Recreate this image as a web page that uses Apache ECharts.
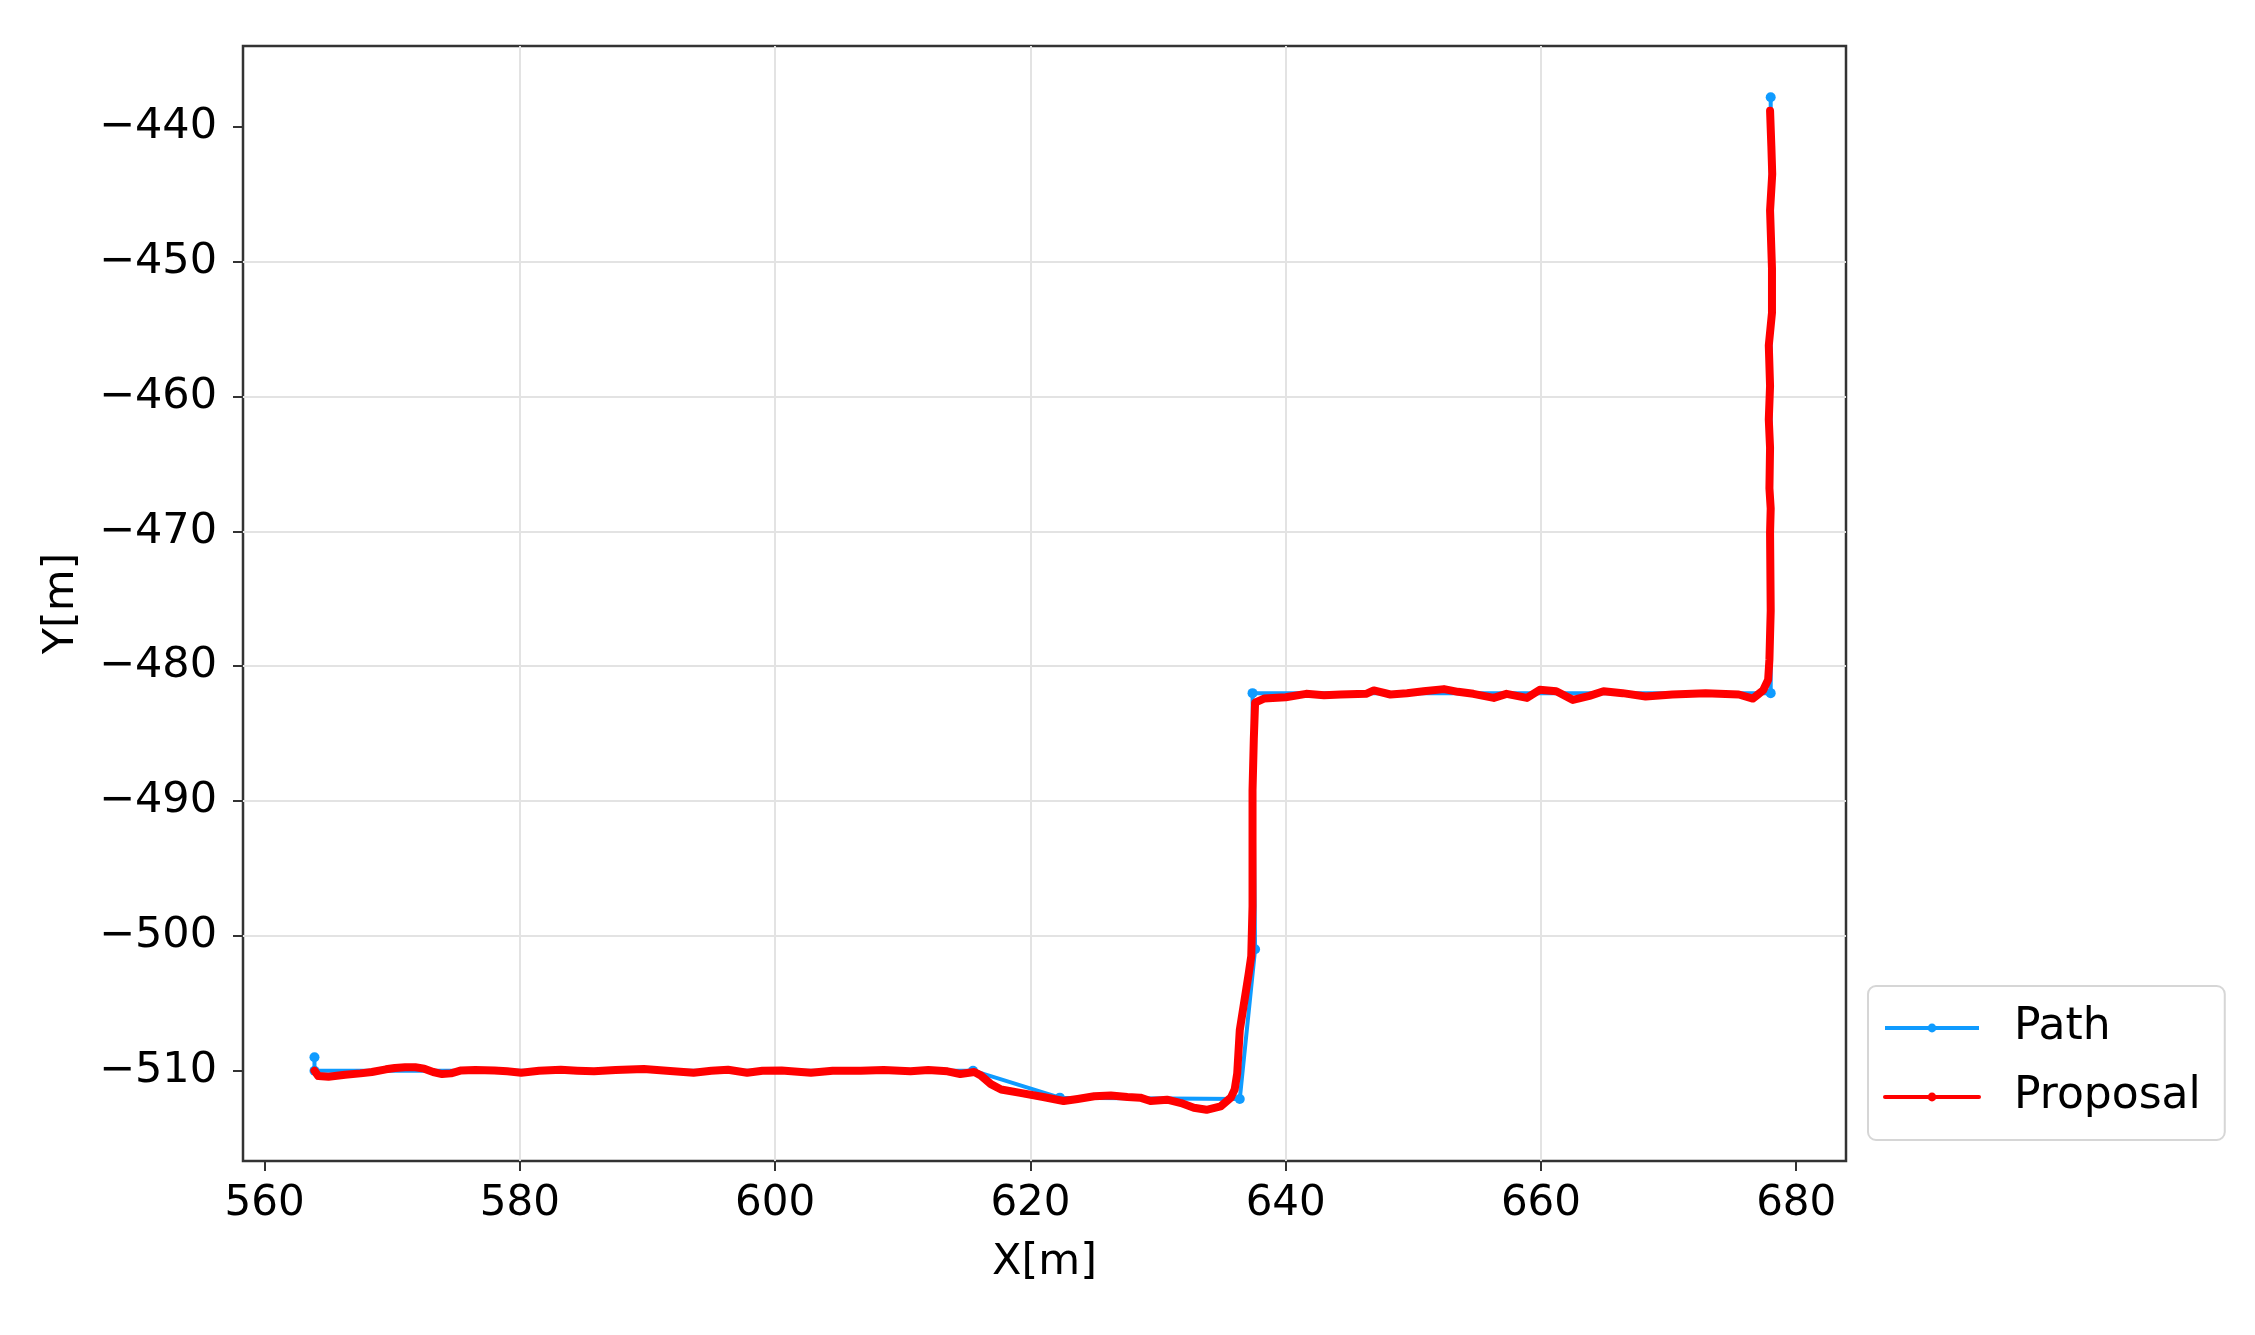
<!DOCTYPE html>
<html>
<head>
<meta charset="utf-8">
<title>Path vs Proposal</title>
<script src="https://cdn.jsdelivr.net/npm/echarts@6/dist/echarts.min.js"></script>
<style>
  html, body { margin: 0; padding: 0; background: #fff; }
  #chart { width: 2255px; height: 1335px; }
</style>
</head>
<body>
<div id="chart"></div>
<script>
// axis ticks
const xTicks = [560, 580, 600, 620, 640, 660, 680]
const yTicks = [-510, -500, -490, -480, -470, -460, -450, -440]

// reference path vertices [x, y]
const pathPoints = [
  [563.9, -509.0], [563.9, -510.0], [615.5, -510.0], [622.3, -512.0],
  [636.4, -512.1], [637.6, -501.0], [637.4, -482.0], [678.0, -482.0],
  [678.0, -437.8]
]

// proposed trajectory [x, y]
const proposalPoints = [
  [563.9, -510.0], [564.2, -510.4], [565.0, -510.45], [566.3, -510.3], [567.5, -510.2],
  [568.4, -510.1], [569.5, -509.9], [570.2, -509.8], [571.0, -509.75], [571.8, -509.75],
  [572.5, -509.85], [573.2, -510.1], [573.9, -510.25], [574.6, -510.2], [575.4, -509.98],
  [576.5, -509.95], [578.0, -509.98], [579.0, -510.05], [580.1, -510.15], [581.5, -510.0],
  [583.2, -509.93], [584.5, -510.0], [585.8, -510.05], [587.5, -509.95], [589.7, -509.87],
  [591.5, -510.0], [593.6, -510.15], [595.0, -510.0], [596.3, -509.93], [597.8, -510.15],
  [599.0, -510.0], [600.5, -509.98], [602.8, -510.15], [604.5, -510.0], [606.7, -510.0],
  [608.5, -509.95], [610.6, -510.05], [612.0, -509.95], [613.5, -510.05], [614.5, -510.25],
  [615.6, -510.1], [616.1, -510.35], [616.9, -511.0], [617.7, -511.4], [619.2, -511.65],
  [621.0, -511.95], [622.6, -512.25], [623.7, -512.1], [625.0, -511.9], [626.3, -511.85],
  [627.6, -511.95], [628.6, -512.0], [629.4, -512.25], [630.7, -512.15], [631.8, -512.4],
  [632.8, -512.75], [633.8, -512.9], [634.9, -512.65], [635.7, -512.0], [636.0, -511.4],
  [636.2, -510.2], [636.4, -507.0], [636.7, -505.2], [637.1, -502.8], [637.3, -501.5],
  [637.4, -497.8], [637.4, -492.9], [637.4, -489.2], [637.5, -485.4], [637.6, -482.7],
  [638.3, -482.4], [640.0, -482.3], [641.6, -482.05], [643.0, -482.15], [644.3, -482.1],
  [646.3, -482.05], [646.9, -481.8], [648.2, -482.1], [649.5, -482.0], [650.8, -481.86],
  [652.4, -481.7], [653.5, -481.9], [654.7, -482.05], [656.3, -482.35], [657.3, -482.05],
  [658.9, -482.35], [659.9, -481.75], [661.2, -481.86], [662.5, -482.5], [663.8, -482.2],
  [664.9, -481.86], [666.4, -482.0], [668.2, -482.25], [670.3, -482.1], [672.9, -482.0],
  [675.5, -482.1], [676.6, -482.4], [677.0, -482.1], [677.4, -481.8], [677.8, -481.0],
  [677.9, -479.5], [678.0, -475.9], [677.95, -470.1], [678.0, -468.3], [677.9, -466.8],
  [677.95, -463.8], [677.85, -461.7], [677.95, -459.2], [677.85, -456.2], [678.1, -453.8],
  [678.1, -450.5], [677.95, -446.2], [678.12, -443.5], [678.05, -441.4], [677.95, -438.8]
]

const seriesNames = ['Path', 'Proposal']

const FONT = 'DejaVu Sans'
const fmtMinus = v => (v < 0 ? '\u2212' + Math.abs(v) : String(v))

const chart = echarts.init(document.getElementById('chart'))

const axisCommon = {
  type: 'value',
  axisLine: { show: false },
  axisTick: {
    show: true,
    inside: false,
    length: 10,
    lineStyle: { color: '#333', width: 2 }
  },
  splitLine: {
    show: true,
    showMinLine: false,
    showMaxLine: false,
    lineStyle: { color: '#e3e3e3', width: 2 }
  },
  nameLocation: 'middle',
  nameTextStyle: { fontFamily: FONT, fontSize: 43, color: '#000' }
}

const option = {
  animation: false,
  backgroundColor: '#fff',
  grid: {
    left: 243,
    top: 46,
    width: 1603,
    height: 1115,
    show: true,
    borderColor: '#333',
    borderWidth: 2.5,
    backgroundColor: 'transparent'
  },
  legend: {
    orient: 'vertical',
    left: 1868,
    top: 986,
    data: seriesNames,
    itemWidth: 94,
    itemHeight: 11,
    itemGap: 25,
    padding: [20, 24, 21, 15],
    backgroundColor: '#fff',
    borderColor: '#d6d6d6',
    borderWidth: 2,
    borderRadius: 8,
    lineStyle: { width: 4 },
    textStyle: {
      fontFamily: FONT,
      fontSize: 44,
      color: '#000',
      padding: [0, 0, 0, 30]
    }
  },
  xAxis: Object.assign({}, axisCommon, {
    min: 558.3,
    max: 683.9,
    minInterval: 20,
    maxInterval: 20,
    name: 'X[m]',
    nameGap: 80,
    axisTick: Object.assign({}, axisCommon.axisTick, { customValues: xTicks }),
    axisLabel: {
      customValues: xTicks,
      margin: 22,
      fontFamily: FONT,
      fontSize: 42,
      color: '#000',
      formatter: fmtMinus
    }
  }),
  yAxis: Object.assign({}, axisCommon, {
    min: -516.7,
    max: -434.0,
    minInterval: 10,
    maxInterval: 10,
    name: 'Y[m]',
    nameGap: 160,
    axisTick: Object.assign({}, axisCommon.axisTick, { customValues: yTicks }),
    axisLabel: {
      customValues: yTicks,
      margin: 26,
      fontFamily: FONT,
      fontSize: 43,
      color: '#000',
      formatter: fmtMinus
    }
  }),
  series: [
    {
      name: seriesNames[0],
      type: 'line',
      data: pathPoints,
      symbol: 'circle',
      symbolSize: 10,
      showSymbol: true,
      lineStyle: { color: '#0f9bff', width: 4 },
      itemStyle: { color: '#0f9bff' },
      z: 2
    },
    {
      name: seriesNames[1],
      type: 'line',
      data: proposalPoints,
      symbol: 'circle',
      symbolSize: 5,
      showSymbol: true,
      lineStyle: { color: '#ff0000', width: 8, join: 'round', cap: 'round' },
      itemStyle: { color: '#ff0000' },
      z: 3
    }
  ]
}

chart.setOption(option)
</script>
</body>
</html>
